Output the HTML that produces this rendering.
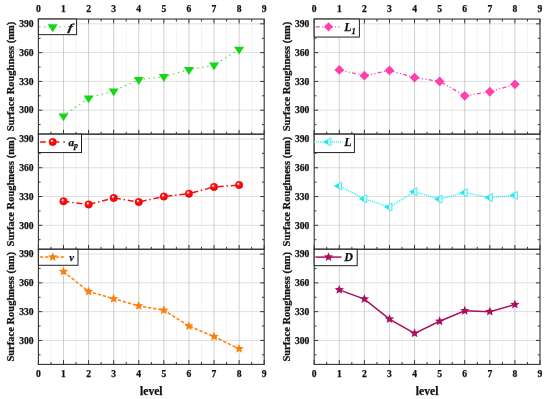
<!DOCTYPE html>
<html><head><meta charset="utf-8"><title>Surface Roughness vs level</title>
<style>html,body{margin:0;padding:0;background:#fff}svg{display:block}text{stroke:#111;stroke-width:.25px}</style></head>
<body>
<svg width="550" height="399" viewBox="0 0 550 399" font-family='"Liberation Serif", serif' font-weight="bold">
<defs><radialGradient id="sph" cx="0.5" cy="0.5" r="0.55" fx="0.34" fy="0.3"><stop offset="0" stop-color="#ffffff"/><stop offset="0.16" stop-color="#ffc8c8"/><stop offset="0.38" stop-color="#ff1818"/><stop offset="0.8" stop-color="#fa0000"/><stop offset="1" stop-color="#de0000"/></radialGradient></defs>
<rect width="550" height="399" fill="#fff"/>
<text x="38.40" y="12.3" font-size="9.6" text-anchor="middle" fill="#111">0</text>
<text x="38.40" y="376.81" font-size="9.6" text-anchor="middle" fill="#111">0</text>
<text x="63.49" y="12.3" font-size="9.6" text-anchor="middle" fill="#111">1</text>
<text x="63.49" y="376.81" font-size="9.6" text-anchor="middle" fill="#111">1</text>
<text x="88.58" y="12.3" font-size="9.6" text-anchor="middle" fill="#111">2</text>
<text x="88.58" y="376.81" font-size="9.6" text-anchor="middle" fill="#111">2</text>
<text x="113.67" y="12.3" font-size="9.6" text-anchor="middle" fill="#111">3</text>
<text x="113.67" y="376.81" font-size="9.6" text-anchor="middle" fill="#111">3</text>
<text x="138.76" y="12.3" font-size="9.6" text-anchor="middle" fill="#111">4</text>
<text x="138.76" y="376.81" font-size="9.6" text-anchor="middle" fill="#111">4</text>
<text x="163.84" y="12.3" font-size="9.6" text-anchor="middle" fill="#111">5</text>
<text x="163.84" y="376.81" font-size="9.6" text-anchor="middle" fill="#111">5</text>
<text x="188.93" y="12.3" font-size="9.6" text-anchor="middle" fill="#111">6</text>
<text x="188.93" y="376.81" font-size="9.6" text-anchor="middle" fill="#111">6</text>
<text x="214.02" y="12.3" font-size="9.6" text-anchor="middle" fill="#111">7</text>
<text x="214.02" y="376.81" font-size="9.6" text-anchor="middle" fill="#111">7</text>
<text x="239.11" y="12.3" font-size="9.6" text-anchor="middle" fill="#111">8</text>
<text x="239.11" y="376.81" font-size="9.6" text-anchor="middle" fill="#111">8</text>
<text x="264.20" y="12.3" font-size="9.6" text-anchor="middle" fill="#111">9</text>
<text x="264.20" y="376.81" font-size="9.6" text-anchor="middle" fill="#111">9</text>
<text x="151.30" y="394.5" font-size="11.6" text-anchor="middle" fill="#111">level</text>
<text x="314.20" y="12.3" font-size="9.6" text-anchor="middle" fill="#111">0</text>
<text x="314.20" y="376.81" font-size="9.6" text-anchor="middle" fill="#111">0</text>
<text x="339.29" y="12.3" font-size="9.6" text-anchor="middle" fill="#111">1</text>
<text x="339.29" y="376.81" font-size="9.6" text-anchor="middle" fill="#111">1</text>
<text x="364.38" y="12.3" font-size="9.6" text-anchor="middle" fill="#111">2</text>
<text x="364.38" y="376.81" font-size="9.6" text-anchor="middle" fill="#111">2</text>
<text x="389.47" y="12.3" font-size="9.6" text-anchor="middle" fill="#111">3</text>
<text x="389.47" y="376.81" font-size="9.6" text-anchor="middle" fill="#111">3</text>
<text x="414.56" y="12.3" font-size="9.6" text-anchor="middle" fill="#111">4</text>
<text x="414.56" y="376.81" font-size="9.6" text-anchor="middle" fill="#111">4</text>
<text x="439.64" y="12.3" font-size="9.6" text-anchor="middle" fill="#111">5</text>
<text x="439.64" y="376.81" font-size="9.6" text-anchor="middle" fill="#111">5</text>
<text x="464.73" y="12.3" font-size="9.6" text-anchor="middle" fill="#111">6</text>
<text x="464.73" y="376.81" font-size="9.6" text-anchor="middle" fill="#111">6</text>
<text x="489.82" y="12.3" font-size="9.6" text-anchor="middle" fill="#111">7</text>
<text x="489.82" y="376.81" font-size="9.6" text-anchor="middle" fill="#111">7</text>
<text x="514.91" y="12.3" font-size="9.6" text-anchor="middle" fill="#111">8</text>
<text x="514.91" y="376.81" font-size="9.6" text-anchor="middle" fill="#111">8</text>
<text x="540.00" y="12.3" font-size="9.6" text-anchor="middle" fill="#111">9</text>
<text x="540.00" y="376.81" font-size="9.6" text-anchor="middle" fill="#111">9</text>
<text x="427.10" y="394.5" font-size="11.6" text-anchor="middle" fill="#111">level</text>
<path d="M63.49,19.05V134.17M88.58,19.05V134.17M113.67,19.05V134.17M138.76,19.05V134.17M163.84,19.05V134.17M188.93,19.05V134.17M214.02,19.05V134.17M239.11,19.05V134.17" stroke="#bbbbbb" stroke-width="0.7" fill="none"/>
<path d="M38.40,110.19H264.20M38.40,81.41H264.20M38.40,52.63H264.20M38.40,23.85H264.20" stroke="#c8c8c8" stroke-width="0.6" fill="none"/>
<path d="M50.94,19.05V134.17M76.03,19.05V134.17M101.12,19.05V134.17M126.21,19.05V134.17M151.30,19.05V134.17M176.39,19.05V134.17M201.48,19.05V134.17M226.57,19.05V134.17M251.66,19.05V134.17" stroke="#e6e6e6" stroke-width="0.5" fill="none"/>
<path d="M38.40,124.58h2.2M264.20,124.58h-2.2M38.40,110.19h4.0M264.20,110.19h-4.0M38.40,95.80h2.2M264.20,95.80h-2.2M38.40,81.41h4.0M264.20,81.41h-4.0M38.40,67.02h2.2M264.20,67.02h-2.2M38.40,52.63h4.0M264.20,52.63h-4.0M38.40,38.24h2.2M264.20,38.24h-2.2M38.40,23.85h4.0M264.20,23.85h-4.0M38.40,19.05v4.3M50.94,19.05v2.4M63.49,19.05v4.3M76.03,19.05v2.4M88.58,19.05v4.3M101.12,19.05v2.4M113.67,19.05v4.3M126.21,19.05v2.4M138.76,19.05v4.3M151.30,19.05v2.4M163.84,19.05v4.3M176.39,19.05v2.4M188.93,19.05v4.3M201.48,19.05v2.4M214.02,19.05v4.3M226.57,19.05v2.4M239.11,19.05v4.3M251.66,19.05v2.4M264.20,19.05v4.3M38.40,134.17v-4.3M50.94,134.17v-2.4M63.49,134.17v-4.3M76.03,134.17v-2.4M88.58,134.17v-4.3M101.12,134.17v-2.4M113.67,134.17v-4.3M126.21,134.17v-2.4M138.76,134.17v-4.3M151.30,134.17v-2.4M163.84,134.17v-4.3M176.39,134.17v-2.4M188.93,134.17v-4.3M201.48,134.17v-2.4M214.02,134.17v-4.3M226.57,134.17v-2.4M239.11,134.17v-4.3M251.66,134.17v-2.4M264.20,134.17v-4.3" stroke="#222" stroke-width="0.9" fill="none"/>
<text x="33.60" y="113.39" font-size="9.6" text-anchor="end" fill="#111">300</text>
<text x="33.60" y="84.61" font-size="9.6" text-anchor="end" fill="#111">330</text>
<text x="33.60" y="55.83" font-size="9.6" text-anchor="end" fill="#111">360</text>
<text x="33.60" y="27.05" font-size="9.6" text-anchor="end" fill="#111">390</text>
<text transform="translate(14.30,76.51) rotate(-90)" font-size="10.5" text-anchor="middle" fill="#111">Surface Roughness (nm)</text>
<path d="M63.49,116.04L88.58,98.00L113.67,91.00L138.76,79.68L163.84,76.61L188.93,69.61L214.02,65.19L239.11,49.27" stroke="#12d812" stroke-width="1.25" fill="none" stroke-dasharray="0.1 4.9" stroke-linecap="round"/>
<polygon points="58.49,113.44 68.49,113.44 63.49,121.34" fill="#12d812"/>
<polygon points="83.58,95.40 93.58,95.40 88.58,103.30" fill="#12d812"/>
<polygon points="108.67,88.40 118.67,88.40 113.67,96.30" fill="#12d812"/>
<polygon points="133.76,77.08 143.76,77.08 138.76,84.98" fill="#12d812"/>
<polygon points="158.84,74.01 168.84,74.01 163.84,81.91" fill="#12d812"/>
<polygon points="183.93,67.01 193.93,67.01 188.93,74.91" fill="#12d812"/>
<polygon points="209.02,62.59 219.02,62.59 214.02,70.49" fill="#12d812"/>
<polygon points="234.11,46.67 244.11,46.67 239.11,54.57" fill="#12d812"/>
<rect x="38.40" y="19.05" width="225.80" height="115.12" fill="none" stroke="#333" stroke-width="1.1"/>
<rect x="38.40" y="19.05" width="38.20" height="15.6" fill="#fff" stroke="#222" stroke-width="1"/>
<path d="M39.90,26.85H65.70" stroke="#12d812" stroke-width="1.25" fill="none" stroke-dasharray="0.1 4.9" stroke-linecap="round"/>
<polygon points="47.70,24.25 57.70,24.25 52.70,32.15" fill="#12d812"/>
<text transform="translate(67.50,30.55) skewX(-8) scale(1.22,0.88)" font-size="12" font-style="italic" fill="#111">f</text>
<path d="M63.49,134.17V249.29M88.58,134.17V249.29M113.67,134.17V249.29M138.76,134.17V249.29M163.84,134.17V249.29M188.93,134.17V249.29M214.02,134.17V249.29M239.11,134.17V249.29" stroke="#bbbbbb" stroke-width="0.7" fill="none"/>
<path d="M38.40,225.31H264.20M38.40,196.53H264.20M38.40,167.75H264.20M38.40,138.97H264.20" stroke="#c8c8c8" stroke-width="0.6" fill="none"/>
<path d="M50.94,134.17V249.29M76.03,134.17V249.29M101.12,134.17V249.29M126.21,134.17V249.29M151.30,134.17V249.29M176.39,134.17V249.29M201.48,134.17V249.29M226.57,134.17V249.29M251.66,134.17V249.29" stroke="#e6e6e6" stroke-width="0.5" fill="none"/>
<path d="M38.40,239.70h2.2M264.20,239.70h-2.2M38.40,225.31h4.0M264.20,225.31h-4.0M38.40,210.92h2.2M264.20,210.92h-2.2M38.40,196.53h4.0M264.20,196.53h-4.0M38.40,182.14h2.2M264.20,182.14h-2.2M38.40,167.75h4.0M264.20,167.75h-4.0M38.40,153.36h2.2M264.20,153.36h-2.2M38.40,138.97h4.0M264.20,138.97h-4.0M38.40,249.29v-4.3M50.94,249.29v-2.4M63.49,249.29v-4.3M76.03,249.29v-2.4M88.58,249.29v-4.3M101.12,249.29v-2.4M113.67,249.29v-4.3M126.21,249.29v-2.4M138.76,249.29v-4.3M151.30,249.29v-2.4M163.84,249.29v-4.3M176.39,249.29v-2.4M188.93,249.29v-4.3M201.48,249.29v-2.4M214.02,249.29v-4.3M226.57,249.29v-2.4M239.11,249.29v-4.3M251.66,249.29v-2.4M264.20,249.29v-4.3" stroke="#222" stroke-width="0.9" fill="none"/>
<text x="33.60" y="228.51" font-size="9.6" text-anchor="end" fill="#111">300</text>
<text x="33.60" y="199.73" font-size="9.6" text-anchor="end" fill="#111">330</text>
<text x="33.60" y="170.95" font-size="9.6" text-anchor="end" fill="#111">360</text>
<text x="33.60" y="142.17" font-size="9.6" text-anchor="end" fill="#111">390</text>
<text transform="translate(14.30,191.63) rotate(-90)" font-size="10.5" text-anchor="middle" fill="#111">Surface Roughness (nm)</text>
<path d="M63.49,201.32L88.58,204.49L113.67,197.97L138.76,201.99L163.84,196.53L188.93,193.65L214.02,186.93L239.11,185.01" stroke="#f21414" stroke-width="1.5" fill="none" stroke-dasharray="6 2.8 1.5 2.8"/>
<circle cx="63.49" cy="201.32" r="3.75" fill="url(#sph)" stroke="#e60000" stroke-width="0.4"/>
<circle cx="88.58" cy="204.49" r="3.75" fill="url(#sph)" stroke="#e60000" stroke-width="0.4"/>
<circle cx="113.67" cy="197.97" r="3.75" fill="url(#sph)" stroke="#e60000" stroke-width="0.4"/>
<circle cx="138.76" cy="201.99" r="3.75" fill="url(#sph)" stroke="#e60000" stroke-width="0.4"/>
<circle cx="163.84" cy="196.53" r="3.75" fill="url(#sph)" stroke="#e60000" stroke-width="0.4"/>
<circle cx="188.93" cy="193.65" r="3.75" fill="url(#sph)" stroke="#e60000" stroke-width="0.4"/>
<circle cx="214.02" cy="186.93" r="3.75" fill="url(#sph)" stroke="#e60000" stroke-width="0.4"/>
<circle cx="239.11" cy="185.01" r="3.75" fill="url(#sph)" stroke="#e60000" stroke-width="0.4"/>
<rect x="38.40" y="134.17" width="225.80" height="115.12" fill="none" stroke="#333" stroke-width="1.1"/>
<rect x="38.40" y="134.17" width="43.10" height="18.4" fill="#fff" stroke="#222" stroke-width="1"/>
<path d="M39.90,141.97h5.9M56.20,141.97h3.2M63.30,141.97h1.6" stroke="#f21414" stroke-width="1.5" fill="none"/>
<circle cx="52.70" cy="141.97" r="3.75" fill="url(#sph)" stroke="#e60000" stroke-width="0.4"/>
<text x="68.40" y="146.27" font-size="12" font-style="italic" fill="#111"><tspan font-size="11.2">a</tspan><tspan font-size="8" dy="1.9">p</tspan></text>
<path d="M63.49,249.29V364.41M88.58,249.29V364.41M113.67,249.29V364.41M138.76,249.29V364.41M163.84,249.29V364.41M188.93,249.29V364.41M214.02,249.29V364.41M239.11,249.29V364.41" stroke="#bbbbbb" stroke-width="0.7" fill="none"/>
<path d="M38.40,340.43H264.20M38.40,311.65H264.20M38.40,282.87H264.20M38.40,254.09H264.20" stroke="#c8c8c8" stroke-width="0.6" fill="none"/>
<path d="M50.94,249.29V364.41M76.03,249.29V364.41M101.12,249.29V364.41M126.21,249.29V364.41M151.30,249.29V364.41M176.39,249.29V364.41M201.48,249.29V364.41M226.57,249.29V364.41M251.66,249.29V364.41" stroke="#e6e6e6" stroke-width="0.5" fill="none"/>
<path d="M38.40,354.82h2.2M264.20,354.82h-2.2M38.40,340.43h4.0M264.20,340.43h-4.0M38.40,326.04h2.2M264.20,326.04h-2.2M38.40,311.65h4.0M264.20,311.65h-4.0M38.40,297.26h2.2M264.20,297.26h-2.2M38.40,282.87h4.0M264.20,282.87h-4.0M38.40,268.48h2.2M264.20,268.48h-2.2M38.40,254.09h4.0M264.20,254.09h-4.0M38.40,364.41v-4.3M50.94,364.41v-2.4M63.49,364.41v-4.3M76.03,364.41v-2.4M88.58,364.41v-4.3M101.12,364.41v-2.4M113.67,364.41v-4.3M126.21,364.41v-2.4M138.76,364.41v-4.3M151.30,364.41v-2.4M163.84,364.41v-4.3M176.39,364.41v-2.4M188.93,364.41v-4.3M201.48,364.41v-2.4M214.02,364.41v-4.3M226.57,364.41v-2.4M239.11,364.41v-4.3M251.66,364.41v-2.4M264.20,364.41v-4.3" stroke="#222" stroke-width="0.9" fill="none"/>
<text x="33.60" y="343.63" font-size="9.6" text-anchor="end" fill="#111">300</text>
<text x="33.60" y="314.85" font-size="9.6" text-anchor="end" fill="#111">330</text>
<text x="33.60" y="286.07" font-size="9.6" text-anchor="end" fill="#111">360</text>
<text x="33.60" y="257.29" font-size="9.6" text-anchor="end" fill="#111">390</text>
<text transform="translate(14.30,306.75) rotate(-90)" font-size="10.5" text-anchor="middle" fill="#111">Surface Roughness (nm)</text>
<path d="M63.49,271.55L88.58,291.50L113.67,298.70L138.76,305.89L163.84,310.21L188.93,326.04L214.02,336.59L239.11,348.87" stroke="#ff7f0e" stroke-width="1.5" fill="none" stroke-dasharray="3.4 1.8"/>
<polygon points="63.49,266.65 64.78,269.77 68.15,270.03 65.58,272.23 66.37,275.51 63.49,273.75 60.61,275.51 61.40,272.23 58.83,270.03 62.20,269.77" fill="#ff7f0e"/>
<polygon points="88.58,286.60 89.87,289.72 93.24,289.99 90.67,292.18 91.46,295.46 88.58,293.70 85.70,295.46 86.49,292.18 83.92,289.99 87.28,289.72" fill="#ff7f0e"/>
<polygon points="113.67,293.80 114.96,296.92 118.33,297.18 115.76,299.38 116.55,302.66 113.67,300.90 110.79,302.66 111.57,299.38 109.01,297.18 112.37,296.92" fill="#ff7f0e"/>
<polygon points="138.76,300.99 140.05,304.11 143.42,304.38 140.85,306.57 141.64,309.85 138.76,308.09 135.88,309.85 136.66,306.57 134.10,304.38 137.46,304.11" fill="#ff7f0e"/>
<polygon points="163.84,305.31 165.14,308.43 168.50,308.69 165.94,310.89 166.72,314.17 163.84,312.41 160.96,314.17 161.75,310.89 159.18,308.69 162.55,308.43" fill="#ff7f0e"/>
<polygon points="188.93,321.14 190.23,324.26 193.59,324.52 191.03,326.72 191.81,330.00 188.93,328.24 186.05,330.00 186.84,326.72 184.27,324.52 187.64,324.26" fill="#ff7f0e"/>
<polygon points="214.02,331.69 215.32,334.81 218.68,335.08 216.11,337.27 216.90,340.55 214.02,338.79 211.14,340.55 211.93,337.27 209.36,335.08 212.73,334.81" fill="#ff7f0e"/>
<polygon points="239.11,343.97 240.40,347.09 243.77,347.35 241.20,349.55 241.99,352.83 239.11,351.07 236.23,352.83 237.02,349.55 234.45,347.35 237.82,347.09" fill="#ff7f0e"/>
<rect x="38.40" y="249.29" width="225.80" height="115.12" fill="none" stroke="#333" stroke-width="1.1"/>
<rect x="38.40" y="249.29" width="39.60" height="16" fill="#fff" stroke="#222" stroke-width="1"/>
<path d="M39.90,257.09H65.70" stroke="#ff7f0e" stroke-width="1.5" fill="none" stroke-dasharray="3.4 1.8"/>
<polygon points="52.70,252.19 53.99,255.31 57.36,255.58 54.79,257.77 55.58,261.05 52.70,259.29 49.82,261.05 50.61,257.77 48.04,255.58 51.41,255.31" fill="#ff7f0e"/>
<text x="68.40" y="261.39" font-size="12" font-style="italic" fill="#111"><tspan font-size="10.8" dx="0.9" dy="-0.5">v</tspan></text>
<path d="M339.29,19.05V134.17M364.38,19.05V134.17M389.47,19.05V134.17M414.56,19.05V134.17M439.64,19.05V134.17M464.73,19.05V134.17M489.82,19.05V134.17M514.91,19.05V134.17" stroke="#bbbbbb" stroke-width="0.7" fill="none"/>
<path d="M314.20,110.19H540.00M314.20,81.41H540.00M314.20,52.63H540.00M314.20,23.85H540.00" stroke="#c8c8c8" stroke-width="0.6" fill="none"/>
<path d="M326.74,19.05V134.17M351.83,19.05V134.17M376.92,19.05V134.17M402.01,19.05V134.17M427.10,19.05V134.17M452.19,19.05V134.17M477.28,19.05V134.17M502.37,19.05V134.17M527.46,19.05V134.17" stroke="#e6e6e6" stroke-width="0.5" fill="none"/>
<path d="M314.20,124.58h2.2M540.00,124.58h-2.2M314.20,110.19h4.0M540.00,110.19h-4.0M314.20,95.80h2.2M540.00,95.80h-2.2M314.20,81.41h4.0M540.00,81.41h-4.0M314.20,67.02h2.2M540.00,67.02h-2.2M314.20,52.63h4.0M540.00,52.63h-4.0M314.20,38.24h2.2M540.00,38.24h-2.2M314.20,23.85h4.0M540.00,23.85h-4.0M314.20,19.05v4.3M326.74,19.05v2.4M339.29,19.05v4.3M351.83,19.05v2.4M364.38,19.05v4.3M376.92,19.05v2.4M389.47,19.05v4.3M402.01,19.05v2.4M414.56,19.05v4.3M427.10,19.05v2.4M439.64,19.05v4.3M452.19,19.05v2.4M464.73,19.05v4.3M477.28,19.05v2.4M489.82,19.05v4.3M502.37,19.05v2.4M514.91,19.05v4.3M527.46,19.05v2.4M540.00,19.05v4.3M314.20,134.17v-4.3M326.74,134.17v-2.4M339.29,134.17v-4.3M351.83,134.17v-2.4M364.38,134.17v-4.3M376.92,134.17v-2.4M389.47,134.17v-4.3M402.01,134.17v-2.4M414.56,134.17v-4.3M427.10,134.17v-2.4M439.64,134.17v-4.3M452.19,134.17v-2.4M464.73,134.17v-4.3M477.28,134.17v-2.4M489.82,134.17v-4.3M502.37,134.17v-2.4M514.91,134.17v-4.3M527.46,134.17v-2.4M540.00,134.17v-4.3" stroke="#222" stroke-width="0.9" fill="none"/>
<text x="309.40" y="113.39" font-size="9.6" text-anchor="end" fill="#111">300</text>
<text x="309.40" y="84.61" font-size="9.6" text-anchor="end" fill="#111">330</text>
<text x="309.40" y="55.83" font-size="9.6" text-anchor="end" fill="#111">360</text>
<text x="309.40" y="27.05" font-size="9.6" text-anchor="end" fill="#111">390</text>
<text transform="translate(290.10,76.51) rotate(-90)" font-size="10.5" text-anchor="middle" fill="#111">Surface Roughness (nm)</text>
<path d="M339.29,69.89L364.38,75.65L389.47,70.47L414.56,77.57L439.64,81.41L464.73,95.80L489.82,91.77L514.91,84.28" stroke="#ff40ac" stroke-width="1.3" fill="none" stroke-dasharray="4 2.3 1.1 2.3 1.1 2.3"/>
<polygon points="334.39,69.89 339.29,64.99 344.19,69.89 339.29,74.79" fill="#ff40ac"/>
<polygon points="359.48,75.65 364.38,70.75 369.28,75.65 364.38,80.55" fill="#ff40ac"/>
<polygon points="384.57,70.47 389.47,65.57 394.37,70.47 389.47,75.37" fill="#ff40ac"/>
<polygon points="409.66,77.57 414.56,72.67 419.46,77.57 414.56,82.47" fill="#ff40ac"/>
<polygon points="434.74,81.41 439.64,76.51 444.54,81.41 439.64,86.31" fill="#ff40ac"/>
<polygon points="459.83,95.80 464.73,90.90 469.63,95.80 464.73,100.70" fill="#ff40ac"/>
<polygon points="484.92,91.77 489.82,86.87 494.72,91.77 489.82,96.67" fill="#ff40ac"/>
<polygon points="510.01,84.28 514.91,79.38 519.81,84.28 514.91,89.18" fill="#ff40ac"/>
<rect x="314.20" y="19.05" width="225.80" height="115.12" fill="none" stroke="#333" stroke-width="1.1"/>
<rect x="314.20" y="19.05" width="45.20" height="18" fill="#fff" stroke="#222" stroke-width="1"/>
<path d="M315.70,26.85H341.50" stroke="#ff40ac" stroke-width="1.3" fill="none" stroke-dasharray="4 2.3 1.1 2.3 1.1 2.3"/>
<polygon points="323.94,26.85 328.50,22.29 333.06,26.85 328.50,31.41" fill="#ff40ac"/>
<text x="344.20" y="31.15" font-size="12" font-style="italic" fill="#111"><tspan>L</tspan><tspan font-size="8.5" dy="2.8">1</tspan></text>
<path d="M339.29,134.17V249.29M364.38,134.17V249.29M389.47,134.17V249.29M414.56,134.17V249.29M439.64,134.17V249.29M464.73,134.17V249.29M489.82,134.17V249.29M514.91,134.17V249.29" stroke="#bbbbbb" stroke-width="0.7" fill="none"/>
<path d="M314.20,225.31H540.00M314.20,196.53H540.00M314.20,167.75H540.00M314.20,138.97H540.00" stroke="#c8c8c8" stroke-width="0.6" fill="none"/>
<path d="M326.74,134.17V249.29M351.83,134.17V249.29M376.92,134.17V249.29M402.01,134.17V249.29M427.10,134.17V249.29M452.19,134.17V249.29M477.28,134.17V249.29M502.37,134.17V249.29M527.46,134.17V249.29" stroke="#e6e6e6" stroke-width="0.5" fill="none"/>
<path d="M314.20,239.70h2.2M540.00,239.70h-2.2M314.20,225.31h4.0M540.00,225.31h-4.0M314.20,210.92h2.2M540.00,210.92h-2.2M314.20,196.53h4.0M540.00,196.53h-4.0M314.20,182.14h2.2M540.00,182.14h-2.2M314.20,167.75h4.0M540.00,167.75h-4.0M314.20,153.36h2.2M540.00,153.36h-2.2M314.20,138.97h4.0M540.00,138.97h-4.0M314.20,249.29v-4.3M326.74,249.29v-2.4M339.29,249.29v-4.3M351.83,249.29v-2.4M364.38,249.29v-4.3M376.92,249.29v-2.4M389.47,249.29v-4.3M402.01,249.29v-2.4M414.56,249.29v-4.3M427.10,249.29v-2.4M439.64,249.29v-4.3M452.19,249.29v-2.4M464.73,249.29v-4.3M477.28,249.29v-2.4M489.82,249.29v-4.3M502.37,249.29v-2.4M514.91,249.29v-4.3M527.46,249.29v-2.4M540.00,249.29v-4.3" stroke="#222" stroke-width="0.9" fill="none"/>
<text x="309.40" y="228.51" font-size="9.6" text-anchor="end" fill="#111">300</text>
<text x="309.40" y="199.73" font-size="9.6" text-anchor="end" fill="#111">330</text>
<text x="309.40" y="170.95" font-size="9.6" text-anchor="end" fill="#111">360</text>
<text x="309.40" y="142.17" font-size="9.6" text-anchor="end" fill="#111">390</text>
<text transform="translate(290.10,191.63) rotate(-90)" font-size="10.5" text-anchor="middle" fill="#111">Surface Roughness (nm)</text>
<path d="M339.29,185.97L364.38,198.83L389.47,207.08L414.56,191.73L439.64,199.12L464.73,192.69L489.82,197.58L514.91,195.38" stroke="#18ecf2" stroke-width="1.3" fill="none" stroke-dasharray="1 1"/>
<polygon points="334.39,185.97 341.69,182.07 341.69,189.87" fill="#fff" stroke="#18ecf2" stroke-width="0.9"/><polygon points="334.39,185.97 339.06,183.48 339.06,188.47" fill="#18ecf2"/>
<polygon points="359.48,198.83 366.78,194.93 366.78,202.73" fill="#fff" stroke="#18ecf2" stroke-width="0.9"/><polygon points="359.48,198.83 364.15,196.33 364.15,201.33" fill="#18ecf2"/>
<polygon points="384.57,207.08 391.87,203.18 391.87,210.98" fill="#fff" stroke="#18ecf2" stroke-width="0.9"/><polygon points="384.57,207.08 389.24,204.58 389.24,209.58" fill="#18ecf2"/>
<polygon points="409.66,191.73 416.96,187.83 416.96,195.63" fill="#fff" stroke="#18ecf2" stroke-width="0.9"/><polygon points="409.66,191.73 414.33,189.23 414.33,194.23" fill="#18ecf2"/>
<polygon points="434.74,199.12 442.04,195.22 442.04,203.02" fill="#fff" stroke="#18ecf2" stroke-width="0.9"/><polygon points="434.74,199.12 439.42,196.62 439.42,201.61" fill="#18ecf2"/>
<polygon points="459.83,192.69 467.13,188.79 467.13,196.59" fill="#fff" stroke="#18ecf2" stroke-width="0.9"/><polygon points="459.83,192.69 464.51,190.19 464.51,195.19" fill="#18ecf2"/>
<polygon points="484.92,197.58 492.22,193.68 492.22,201.48" fill="#fff" stroke="#18ecf2" stroke-width="0.9"/><polygon points="484.92,197.58 489.59,195.09 489.59,200.08" fill="#18ecf2"/>
<polygon points="510.01,195.38 517.31,191.48 517.31,199.28" fill="#fff" stroke="#18ecf2" stroke-width="0.9"/><polygon points="510.01,195.38 514.68,192.88 514.68,197.87" fill="#18ecf2"/>
<rect x="314.20" y="134.17" width="225.80" height="115.12" fill="none" stroke="#333" stroke-width="1.1"/>
<rect x="314.20" y="134.17" width="40.20" height="18.4" fill="#fff" stroke="#222" stroke-width="1"/>
<path d="M314.00,141.97H341.50" stroke="#18ecf2" stroke-width="1.3" fill="none" stroke-dasharray="1 1"/>
<polygon points="323.60,141.97 330.90,138.07 330.90,145.87" fill="#fff" stroke="#18ecf2" stroke-width="0.9"/><polygon points="323.60,141.97 328.27,139.47 328.27,144.47" fill="#18ecf2"/>
<text x="344.20" y="146.27" font-size="12" font-style="italic" fill="#111"><tspan>L</tspan></text>
<path d="M339.29,249.29V364.41M364.38,249.29V364.41M389.47,249.29V364.41M414.56,249.29V364.41M439.64,249.29V364.41M464.73,249.29V364.41M489.82,249.29V364.41M514.91,249.29V364.41" stroke="#bbbbbb" stroke-width="0.7" fill="none"/>
<path d="M314.20,340.43H540.00M314.20,311.65H540.00M314.20,282.87H540.00M314.20,254.09H540.00" stroke="#c8c8c8" stroke-width="0.6" fill="none"/>
<path d="M326.74,249.29V364.41M351.83,249.29V364.41M376.92,249.29V364.41M402.01,249.29V364.41M427.10,249.29V364.41M452.19,249.29V364.41M477.28,249.29V364.41M502.37,249.29V364.41M527.46,249.29V364.41" stroke="#e6e6e6" stroke-width="0.5" fill="none"/>
<path d="M314.20,354.82h2.2M540.00,354.82h-2.2M314.20,340.43h4.0M540.00,340.43h-4.0M314.20,326.04h2.2M540.00,326.04h-2.2M314.20,311.65h4.0M540.00,311.65h-4.0M314.20,297.26h2.2M540.00,297.26h-2.2M314.20,282.87h4.0M540.00,282.87h-4.0M314.20,268.48h2.2M540.00,268.48h-2.2M314.20,254.09h4.0M540.00,254.09h-4.0M314.20,364.41v-4.3M326.74,364.41v-2.4M339.29,364.41v-4.3M351.83,364.41v-2.4M364.38,364.41v-4.3M376.92,364.41v-2.4M389.47,364.41v-4.3M402.01,364.41v-2.4M414.56,364.41v-4.3M427.10,364.41v-2.4M439.64,364.41v-4.3M452.19,364.41v-2.4M464.73,364.41v-4.3M477.28,364.41v-2.4M489.82,364.41v-4.3M502.37,364.41v-2.4M514.91,364.41v-4.3M527.46,364.41v-2.4M540.00,364.41v-4.3" stroke="#222" stroke-width="0.9" fill="none"/>
<text x="309.40" y="343.63" font-size="9.6" text-anchor="end" fill="#111">300</text>
<text x="309.40" y="314.85" font-size="9.6" text-anchor="end" fill="#111">330</text>
<text x="309.40" y="286.07" font-size="9.6" text-anchor="end" fill="#111">360</text>
<text x="309.40" y="257.29" font-size="9.6" text-anchor="end" fill="#111">390</text>
<text transform="translate(290.10,306.75) rotate(-90)" font-size="10.5" text-anchor="middle" fill="#111">Surface Roughness (nm)</text>
<path d="M339.29,289.87L364.38,299.08L389.47,319.13L414.56,333.33L439.64,321.24L464.73,310.69L489.82,311.65L514.91,304.55" stroke="#ab1060" stroke-width="1.5" fill="none"/>
<polygon points="339.29,284.97 340.58,288.09 343.95,288.36 341.38,290.55 342.17,293.83 339.29,292.07 336.41,293.83 337.20,290.55 334.63,288.36 338.00,288.09" fill="#ab1060"/>
<polygon points="364.38,294.18 365.67,297.30 369.04,297.57 366.47,299.76 367.26,303.04 364.38,301.28 361.50,303.04 362.29,299.76 359.72,297.57 363.08,297.30" fill="#ab1060"/>
<polygon points="389.47,314.23 390.76,317.35 394.13,317.62 391.56,319.81 392.35,323.09 389.47,321.33 386.59,323.09 387.37,319.81 384.81,317.62 388.17,317.35" fill="#ab1060"/>
<polygon points="414.56,328.43 415.85,331.55 419.22,331.81 416.65,334.01 417.44,337.29 414.56,335.53 411.68,337.29 412.46,334.01 409.90,331.81 413.26,331.55" fill="#ab1060"/>
<polygon points="439.64,316.34 440.94,319.46 444.30,319.73 441.74,321.92 442.52,325.20 439.64,323.44 436.76,325.20 437.55,321.92 434.98,319.73 438.35,319.46" fill="#ab1060"/>
<polygon points="464.73,305.79 466.03,308.91 469.39,309.17 466.83,311.37 467.61,314.65 464.73,312.89 461.85,314.65 462.64,311.37 460.07,309.17 463.44,308.91" fill="#ab1060"/>
<polygon points="489.82,306.75 491.12,309.87 494.48,310.13 491.91,312.33 492.70,315.61 489.82,313.85 486.94,315.61 487.73,312.33 485.16,310.13 488.53,309.87" fill="#ab1060"/>
<polygon points="514.91,299.65 516.20,302.77 519.57,303.03 517.00,305.23 517.79,308.51 514.91,306.75 512.03,308.51 512.82,305.23 510.25,303.03 513.62,302.77" fill="#ab1060"/>
<rect x="314.20" y="249.29" width="225.80" height="115.12" fill="none" stroke="#333" stroke-width="1.1"/>
<rect x="314.20" y="249.29" width="43.00" height="16.4" fill="#fff" stroke="#222" stroke-width="1"/>
<path d="M315.40,257.09H341.50" stroke="#ab1060" stroke-width="1.5" fill="none"/>
<polygon points="328.50,252.19 329.79,255.31 333.16,255.58 330.59,257.77 331.38,261.05 328.50,259.29 325.62,261.05 326.41,257.77 323.84,255.58 327.21,255.31" fill="#ab1060"/>
<text x="344.20" y="261.39" font-size="12" font-style="italic" fill="#111"><tspan>D</tspan></text>
</svg>
</body></html>
